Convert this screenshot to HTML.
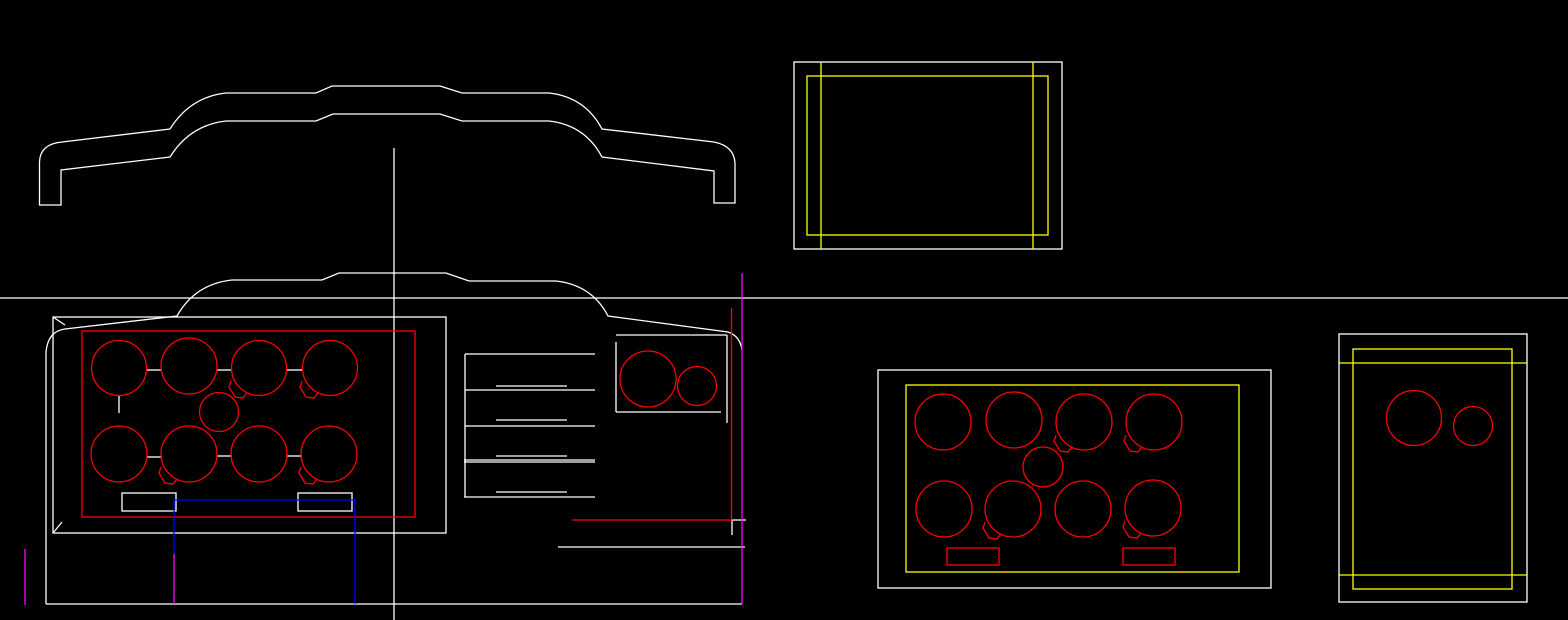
<!DOCTYPE html>
<html><head><meta charset="utf-8"><style>html,body{margin:0;padding:0;background:#000;}svg{display:block}</style></head>
<body>
<svg width="1568" height="620" viewBox="0 0 1568 620" xmlns="http://www.w3.org/2000/svg">
<defs>
<g id="tab" fill="none" stroke="#f00" stroke-width="1.3"><polyline points="-28,13 -30,19 -24,29 -16,30 -12,25"/></g>
</defs>
<rect width="1568" height="620" fill="#000"/>
<g fill="none" stroke="#fff" stroke-width="1.3">
<path d="M39.5,205 L39.5,162 Q40,144 62,142 L170,129 Q190,97 226,93 L316,93 L332,86 L440,86 L462,93 L549,93 Q585,97 602,129 L714,142 Q734,146 735,163 L735,203 L714,203 L714,171 L602,157 Q585,125 549,121 L462,121 L440,114 L333,114 L316,121 L226,121 Q190,125 170,157 L61,170 L61,205 Z"/>
<line x1="394" y1="148" x2="394" y2="620"/>
<line x1="0" y1="298" x2="1568" y2="298"/>
<path d="M46,604 L46,352 Q48,331 65,329 L177,316 Q195,284 232,280 L322,280 L339,273 L446,273 L469,281 L556,281 Q592,285 608,316 L728,332 Q740,336 742,350"/>
<line x1="46" y1="604" x2="742" y2="604"/>
<rect x="53" y="317" width="393" height="216"/>
<line x1="53" y1="317" x2="65" y2="325"/>
<line x1="53" y1="533" x2="62" y2="522"/>
<line x1="147" y1="370" x2="162" y2="370"/><line x1="217" y1="370" x2="232" y2="370"/><line x1="287" y1="370" x2="302" y2="370"/>
<line x1="147" y1="457" x2="162" y2="457"/><line x1="217" y1="456" x2="232" y2="456"/><line x1="287" y1="456" x2="302" y2="456"/>
<line x1="119" y1="396" x2="119" y2="413"/>
<rect x="122" y="493" width="54" height="18"/>
<rect x="298" y="493" width="54" height="18"/>
<line x1="465" y1="354" x2="465" y2="497"/>
<line x1="465" y1="354" x2="595" y2="354"/><line x1="465" y1="390" x2="595" y2="390"/><line x1="465" y1="426" x2="595" y2="426"/><line x1="464" y1="460" x2="595" y2="460"/><line x1="464" y1="462" x2="595" y2="462"/><line x1="464" y1="497" x2="595" y2="497"/>
<line x1="496" y1="386" x2="567" y2="386"/><line x1="496" y1="420" x2="567" y2="420"/><line x1="496" y1="456" x2="567" y2="456"/><line x1="496" y1="492" x2="567" y2="492"/>
<line x1="616" y1="335" x2="727" y2="335"/><line x1="616" y1="342" x2="616" y2="412"/><line x1="616" y1="412" x2="721" y2="412"/><line x1="727" y1="335" x2="727" y2="423"/>
<line x1="732" y1="520" x2="746" y2="520"/><line x1="732" y1="520" x2="732" y2="535"/>
<line x1="558" y1="547" x2="745" y2="547"/>
<rect x="794" y="62" width="268" height="187"/>
<rect x="878" y="370" width="393" height="218"/>
<rect x="1339" y="334" width="188" height="268"/>
</g>
<g fill="none" stroke="#f00" stroke-width="1.3">
<rect x="82" y="331" width="333" height="186"/>
<circle cx="119" cy="368" r="27.5"/><circle cx="189" cy="366" r="28"/><circle cx="259" cy="368" r="27.5"/><circle cx="330" cy="368" r="27.5"/>
<circle cx="119" cy="454" r="28"/><circle cx="189" cy="454" r="28"/><circle cx="259" cy="454" r="28"/><circle cx="329" cy="454" r="28"/>
<circle cx="219" cy="412" r="19.5"/>
<line x1="731.5" y1="308" x2="731.5" y2="520"/>
<line x1="572" y1="520" x2="732" y2="520"/>
<circle cx="648" cy="379" r="28"/><circle cx="697" cy="386" r="19.5"/>
<circle cx="943" cy="422" r="28"/><circle cx="1014" cy="420" r="28"/><circle cx="1084" cy="422" r="28"/><circle cx="1154" cy="422" r="28"/>
<circle cx="944" cy="509" r="28"/><circle cx="1013" cy="509" r="28"/><circle cx="1083" cy="509" r="28"/><circle cx="1153" cy="508" r="28"/>
<circle cx="1043" cy="467" r="20"/>
<rect x="947" y="548" width="52" height="17"/><rect x="1123" y="548" width="52" height="17"/>
<circle cx="1414" cy="418" r="27.5"/><circle cx="1473" cy="426" r="19.5"/>
</g>
<use href="#tab" x="259" y="368"/><use href="#tab" x="330" y="368"/><use href="#tab" x="189" y="454"/><use href="#tab" x="329" y="454"/>
<use href="#tab" x="1084" y="422"/><use href="#tab" x="1154" y="422"/><use href="#tab" x="1013" y="509"/><use href="#tab" x="1153" y="508"/>
<g fill="none" stroke="#ff0" stroke-width="1.3">
<rect x="807" y="76" width="241" height="159"/>
<line x1="821" y1="62" x2="821" y2="249"/><line x1="1033" y1="62" x2="1033" y2="249"/>
<rect x="906" y="385" width="333" height="187"/>
<rect x="1353" y="349" width="159" height="240"/>
<line x1="1339" y1="363" x2="1527" y2="363"/><line x1="1339" y1="575" x2="1527" y2="575"/>
</g>
<g fill="none" stroke="#00f" stroke-width="1.3">
<polyline points="174,554 174,500 355,500 355,604"/>
</g>
<g fill="none" stroke="#f0f" stroke-width="1.3">
<line x1="174" y1="554" x2="174" y2="604"/>
<line x1="742" y1="273" x2="742" y2="604"/>
<line x1="25" y1="549" x2="25" y2="605"/>
</g>
</svg>
</body></html>
